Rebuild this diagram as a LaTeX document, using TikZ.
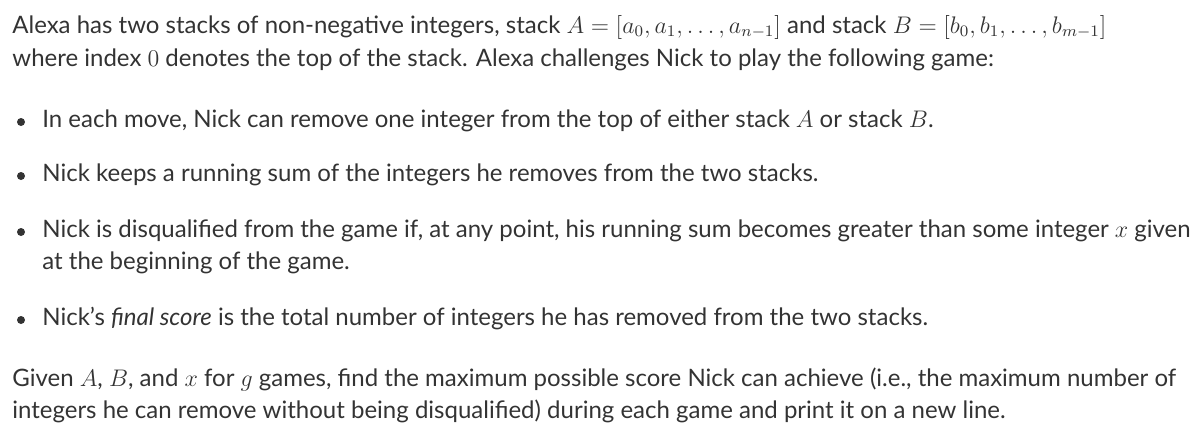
\documentclass[tikz,border=0pt]{standalone}
\usepackage{fontspec}
\setmainfont{Lato}
\begin{document}
\begin{tikzpicture}[x=0.5pt,y=-0.5pt,
  ln/.style={anchor=base west,inner sep=0pt,font=\fontsize{12}{14}\selectfont,text=black!80},
  bul/.style={circle,fill=black!80,inner sep=0pt,minimum size=4pt}]
\useasboundingbox (0,0) rectangle (1200,439);
\node[ln] (l1) at (12,33) {Alexa has two stacks of non-negative integers, stack $A=[a_0,a_1,\ldots,a_{n-1}]$ and stack $B=[b_0,b_1,\ldots,b_{m-1}]$};
\node[ln] (l2) at (12,66) {where index $0$ denotes the top of the stack. Alexa challenges Nick to play the following game:};
\node[bul] (b1) at (21,122) {};
\node[ln] (t1) at (42,127) {In each move, Nick can remove one integer from the top of either stack $A$ or stack $B$.};
\node[bul] (b2) at (21,176) {};
\node[ln] (t2) at (42,181) {Nick keeps a running sum of the integers he removes from the two stacks.};
\node[bul] (b3) at (21,232) {};
\node[ln] (t3) at (42,237) {Nick is disqualified from the game if, at any point, his running sum becomes greater than some integer $x$ given};
\node[ln] (t3b) at (42,269) {at the beginning of the game.};
\node[bul] (b4) at (21,320) {};
\node[ln] (t4) at (42,325) {Nick's \textit{final score} is the total number of integers he has removed from the two stacks.};
\node[ln] (p1) at (12,386) {Given $A$, $B$, and $x$ for $g$ games, find the maximum possible score Nick can achieve (i.e., the maximum number of};
\node[ln] (p2) at (12,418) {integers he can remove without being disqualified) during each game and print it on a new line.};
\end{tikzpicture}
\end{document}
